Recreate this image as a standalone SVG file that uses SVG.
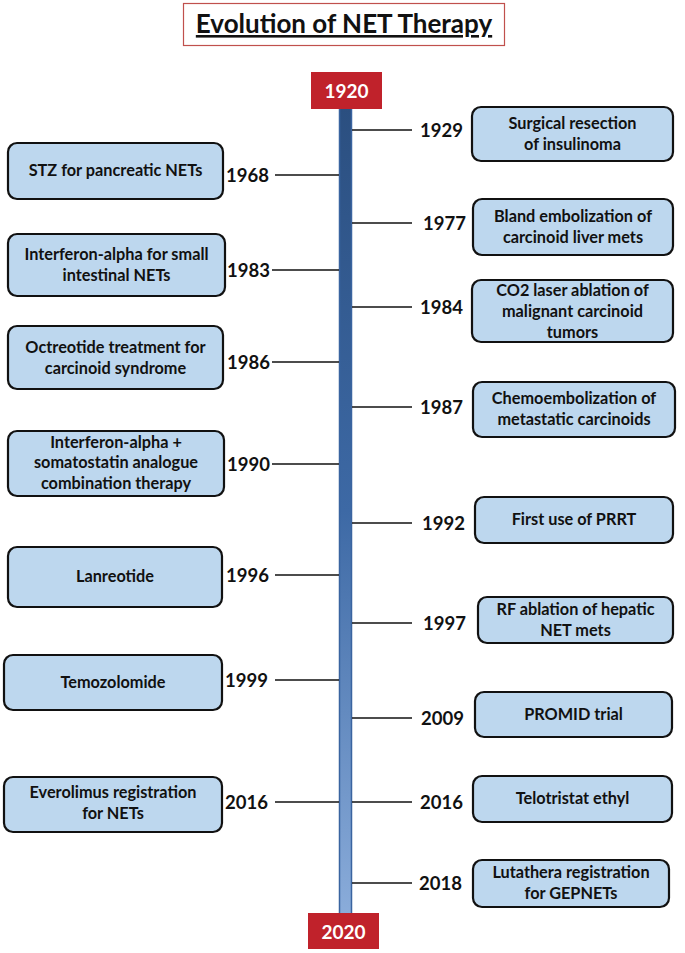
<svg xmlns="http://www.w3.org/2000/svg" width="685" height="953" viewBox="0 0 685 953">
<defs>
<linearGradient id="barg" x1="0" y1="0" x2="0" y2="1">
<stop offset="0" stop-color="#2B4F80"/>
<stop offset="0.5" stop-color="#3D69A5"/>
<stop offset="1" stop-color="#8AACDA"/>
</linearGradient>
<style>
text{font-family:Lato,"Liberation Sans",sans-serif;font-weight:bold;fill:#111}
.box{fill:#BDD7EE;stroke:#111;stroke-width:2.2}
.bt{font-size:16.3px;text-anchor:middle}
.yr{font-size:18.5px}
.yl{text-anchor:end}
.con line{stroke:#111;stroke-width:1.6}
.cap{fill:#C0222B}
.ct{fill:#fff;font-size:19px;text-anchor:middle}
</style>
</defs>
<rect width="685" height="953" fill="#fff"/>
<g id="title">
<rect x="183.5" y="3.5" width="321" height="42" fill="#fff" stroke="#C0504D" stroke-width="1.2"/>
<text x="344" y="33" font-size="26" text-anchor="middle" text-decoration="underline">Evolution of NET Therapy</text>
</g>
<g id="timeline">
<rect x="339.5" y="108" width="12" height="806" fill="url(#barg)" stroke="#3A64A0" stroke-width="1.5"/>
</g>
<g id="start">
<rect class="cap" x="311" y="72" width="71" height="37"/>
<text class="ct" x="346.5" y="98">1920</text>
</g>
<g id="end">
<rect class="cap" x="308" y="913" width="71" height="36"/>
<text class="ct" x="343.5" y="939">2020</text>
</g>
<g class="con" id="connectors">
<line x1="352" y1="130" x2="412" y2="130"/>
<line x1="352" y1="223" x2="412" y2="223"/>
<line x1="352" y1="307" x2="412" y2="307"/>
<line x1="352" y1="407" x2="412" y2="407"/>
<line x1="352" y1="523" x2="412" y2="523"/>
<line x1="352" y1="623" x2="412" y2="623"/>
<line x1="352" y1="718" x2="412" y2="718"/>
<line x1="352" y1="802" x2="412" y2="802"/>
<line x1="352" y1="883" x2="412" y2="883"/>
<line x1="275" y1="175" x2="339" y2="175"/>
<line x1="272" y1="270" x2="339" y2="270"/>
<line x1="272" y1="362" x2="339" y2="362"/>
<line x1="272" y1="464" x2="339" y2="464"/>
<line x1="275" y1="575" x2="339" y2="575"/>
<line x1="275" y1="680" x2="339" y2="680"/>
<line x1="275" y1="802" x2="339" y2="802"/>
</g>
<g id="n1929">
<text class="yr" x="420" y="137">1929</text>
<rect class="box" x="472" y="107" width="201" height="54" rx="9"/>
<text class="bt" x="572.5" y="129">Surgical resection</text>
<text class="bt" x="572.5" y="150">of insulinoma</text>
</g>
<g id="n1977">
<text class="yr" x="423" y="230">1977</text>
<rect class="box" x="473" y="199" width="200" height="56" rx="9"/>
<text class="bt" x="573" y="222">Bland embolization of</text>
<text class="bt" x="573" y="243">carcinoid liver mets</text>
</g>
<g id="n1984">
<text class="yr" x="420" y="314">1984</text>
<rect class="box" x="472" y="280" width="201" height="62" rx="9"/>
<text class="bt" x="572.5" y="296">CO2 laser ablation of</text>
<text class="bt" x="572.5" y="317">malignant carcinoid</text>
<text class="bt" x="572.5" y="338">tumors</text>
</g>
<g id="n1987">
<text class="yr" x="420" y="414">1987</text>
<rect class="box" x="473" y="382" width="202" height="55" rx="9"/>
<text class="bt" x="574" y="404">Chemoembolization of</text>
<text class="bt" x="574" y="425">metastatic carcinoids</text>
</g>
<g id="n1992">
<text class="yr" x="422" y="530">1992</text>
<rect class="box" x="475" y="497" width="198" height="46" rx="9"/>
<text class="bt" x="574" y="525">First use of PRRT</text>
</g>
<g id="n1997">
<text class="yr" x="423" y="630">1997</text>
<rect class="box" x="478" y="597" width="195" height="46" rx="9"/>
<text class="bt" x="575.5" y="615">RF ablation of hepatic</text>
<text class="bt" x="575.5" y="636">NET mets</text>
</g>
<g id="n2009">
<text class="yr" x="421" y="725">2009</text>
<rect class="box" x="475" y="692" width="197" height="45" rx="9"/>
<text class="bt" x="573.5" y="720">PROMID trial</text>
</g>
<g id="n2016r">
<text class="yr" x="420" y="809">2016</text>
<rect class="box" x="473" y="776" width="199" height="46" rx="9"/>
<text class="bt" x="572.5" y="804">Telotristat ethyl</text>
</g>
<g id="n2018">
<text class="yr" x="419" y="890">2018</text>
<rect class="box" x="473" y="860" width="196" height="47" rx="9"/>
<text class="bt" x="571" y="878">Lutathera registration</text>
<text class="bt" x="571" y="899">for GEPNETs</text>
</g>
<g id="n1968">
<text class="yr yl" x="269" y="182">1968</text>
<rect class="box" x="8" y="143" width="215" height="56" rx="9"/>
<text class="bt" x="115.5" y="176">STZ for pancreatic NETs</text>
</g>
<g id="n1983">
<text class="yr yl" x="270" y="277">1983</text>
<rect class="box" x="8" y="234" width="217" height="62" rx="9"/>
<text class="bt" x="116.5" y="260">Interferon-alpha for small</text>
<text class="bt" x="116.5" y="281">intestinal NETs</text>
</g>
<g id="n1986">
<text class="yr yl" x="270" y="369">1986</text>
<rect class="box" x="8" y="326" width="215" height="63" rx="9"/>
<text class="bt" x="115.5" y="353">Octreotide treatment for</text>
<text class="bt" x="115.5" y="374">carcinoid syndrome</text>
</g>
<g id="n1990">
<text class="yr yl" x="270" y="471">1990</text>
<rect class="box" x="8" y="431" width="216" height="65" rx="9"/>
<text class="bt" x="116" y="448">Interferon-alpha +</text>
<text class="bt" x="116" y="468">somatostatin analogue</text>
<text class="bt" x="116" y="489">combination therapy</text>
</g>
<g id="n1996">
<text class="yr yl" x="269" y="582">1996</text>
<rect class="box" x="8" y="547" width="214" height="60" rx="9"/>
<text class="bt" x="115" y="582">Lanreotide</text>
</g>
<g id="n1999">
<text class="yr yl" x="268" y="687">1999</text>
<rect class="box" x="4" y="655" width="218" height="55" rx="9"/>
<text class="bt" x="113" y="688">Temozolomide</text>
</g>
<g id="n2016l">
<text class="yr yl" x="268" y="809">2016</text>
<rect class="box" x="4" y="777" width="218" height="55" rx="9"/>
<text class="bt" x="113" y="798">Everolimus registration</text>
<text class="bt" x="113" y="819">for NETs</text>
</g>
</svg>
